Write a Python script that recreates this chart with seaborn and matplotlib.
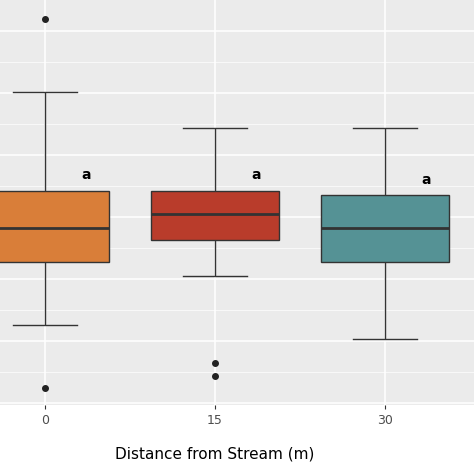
import pandas as pd
import matplotlib.pyplot as plt
import seaborn as sns

# raw values chosen so quartiles/whiskers/outliers match the reference
groups = ["0", "15", "30"]
vals_0 = [0.24, 1.26, 2.27, 2.27, 2.82, 3.42, 3.42, 5.02, 6.19]
vals_15 = [0.44, 0.65, 2.05, 2.63, 2.7, 2.9, 3.05, 3.2, 3.3, 3.42, 3.42, 4.0, 4.44]
vals_30 = [1.03, 1.8, 2.27, 2.27, 2.82, 3.35, 3.35, 4.0, 4.44]
colors = ["#F37A1F", "#D02A14", "#4A9BA0"]
letters = ["a", "a", "a"]
letter_y = [3.68, 3.68, 3.6]

df = pd.DataFrame({
    "dist": ["0"] * len(vals_0) + ["15"] * len(vals_15) + ["30"] * len(vals_30),
    "val": vals_0 + vals_15 + vals_30,
})

fig = plt.figure(figsize=(4.74, 4.74), dpi=100)
# panel is cropped on the left/top in the reference
ax = fig.add_axes([-57 / 474, 69 / 474, 544 / 474, 410 / 474])
ax.set_facecolor("#EBEBEB")

sns.boxplot(data=df, x="dist", y="val", order=groups, hue="dist",
            palette=colors, legend=False, width=0.75, whis=1.5,
            linecolor="#333333", linewidth=1,
            medianprops={"linewidth": 2, "color": "#333333"},
            flierprops={"marker": "o", "markersize": 4,
                        "markerfacecolor": "#222222", "markeredgecolor": "#222222"},
            ax=ax, zorder=3)

for i, (t, y) in enumerate(zip(letters, letter_y)):
    ax.text(i + 0.24, y, t, fontsize=10, fontweight="bold", ha="center", va="center")

ax.set_xlim(-0.6, 2.6)
ax.set_ylim(-0.03, 6.58)
ax.set_yticks([0, 1, 2, 3, 4, 5, 6])
ax.set_yticks([0.5, 1.5, 2.5, 3.5, 4.5, 5.5], minor=True)
ax.grid(True, which="major", color="white", linewidth=1.1, zorder=0)
ax.grid(True, which="minor", axis="y", color="white", linewidth=0.5, zorder=0)
ax.set_axisbelow(True)
for s in ax.spines.values():
    s.set_visible(False)
ax.tick_params(axis="y", left=False, labelleft=False, which="both")
ax.tick_params(axis="x", length=3, color="#333333", labelcolor="#4D4D4D", labelsize=9)
ax.set_ylabel("")
ax.set_xlabel("Distance from Stream (m)", fontsize=11, labelpad=14)

fig.savefig("out.png", dpi=100)
